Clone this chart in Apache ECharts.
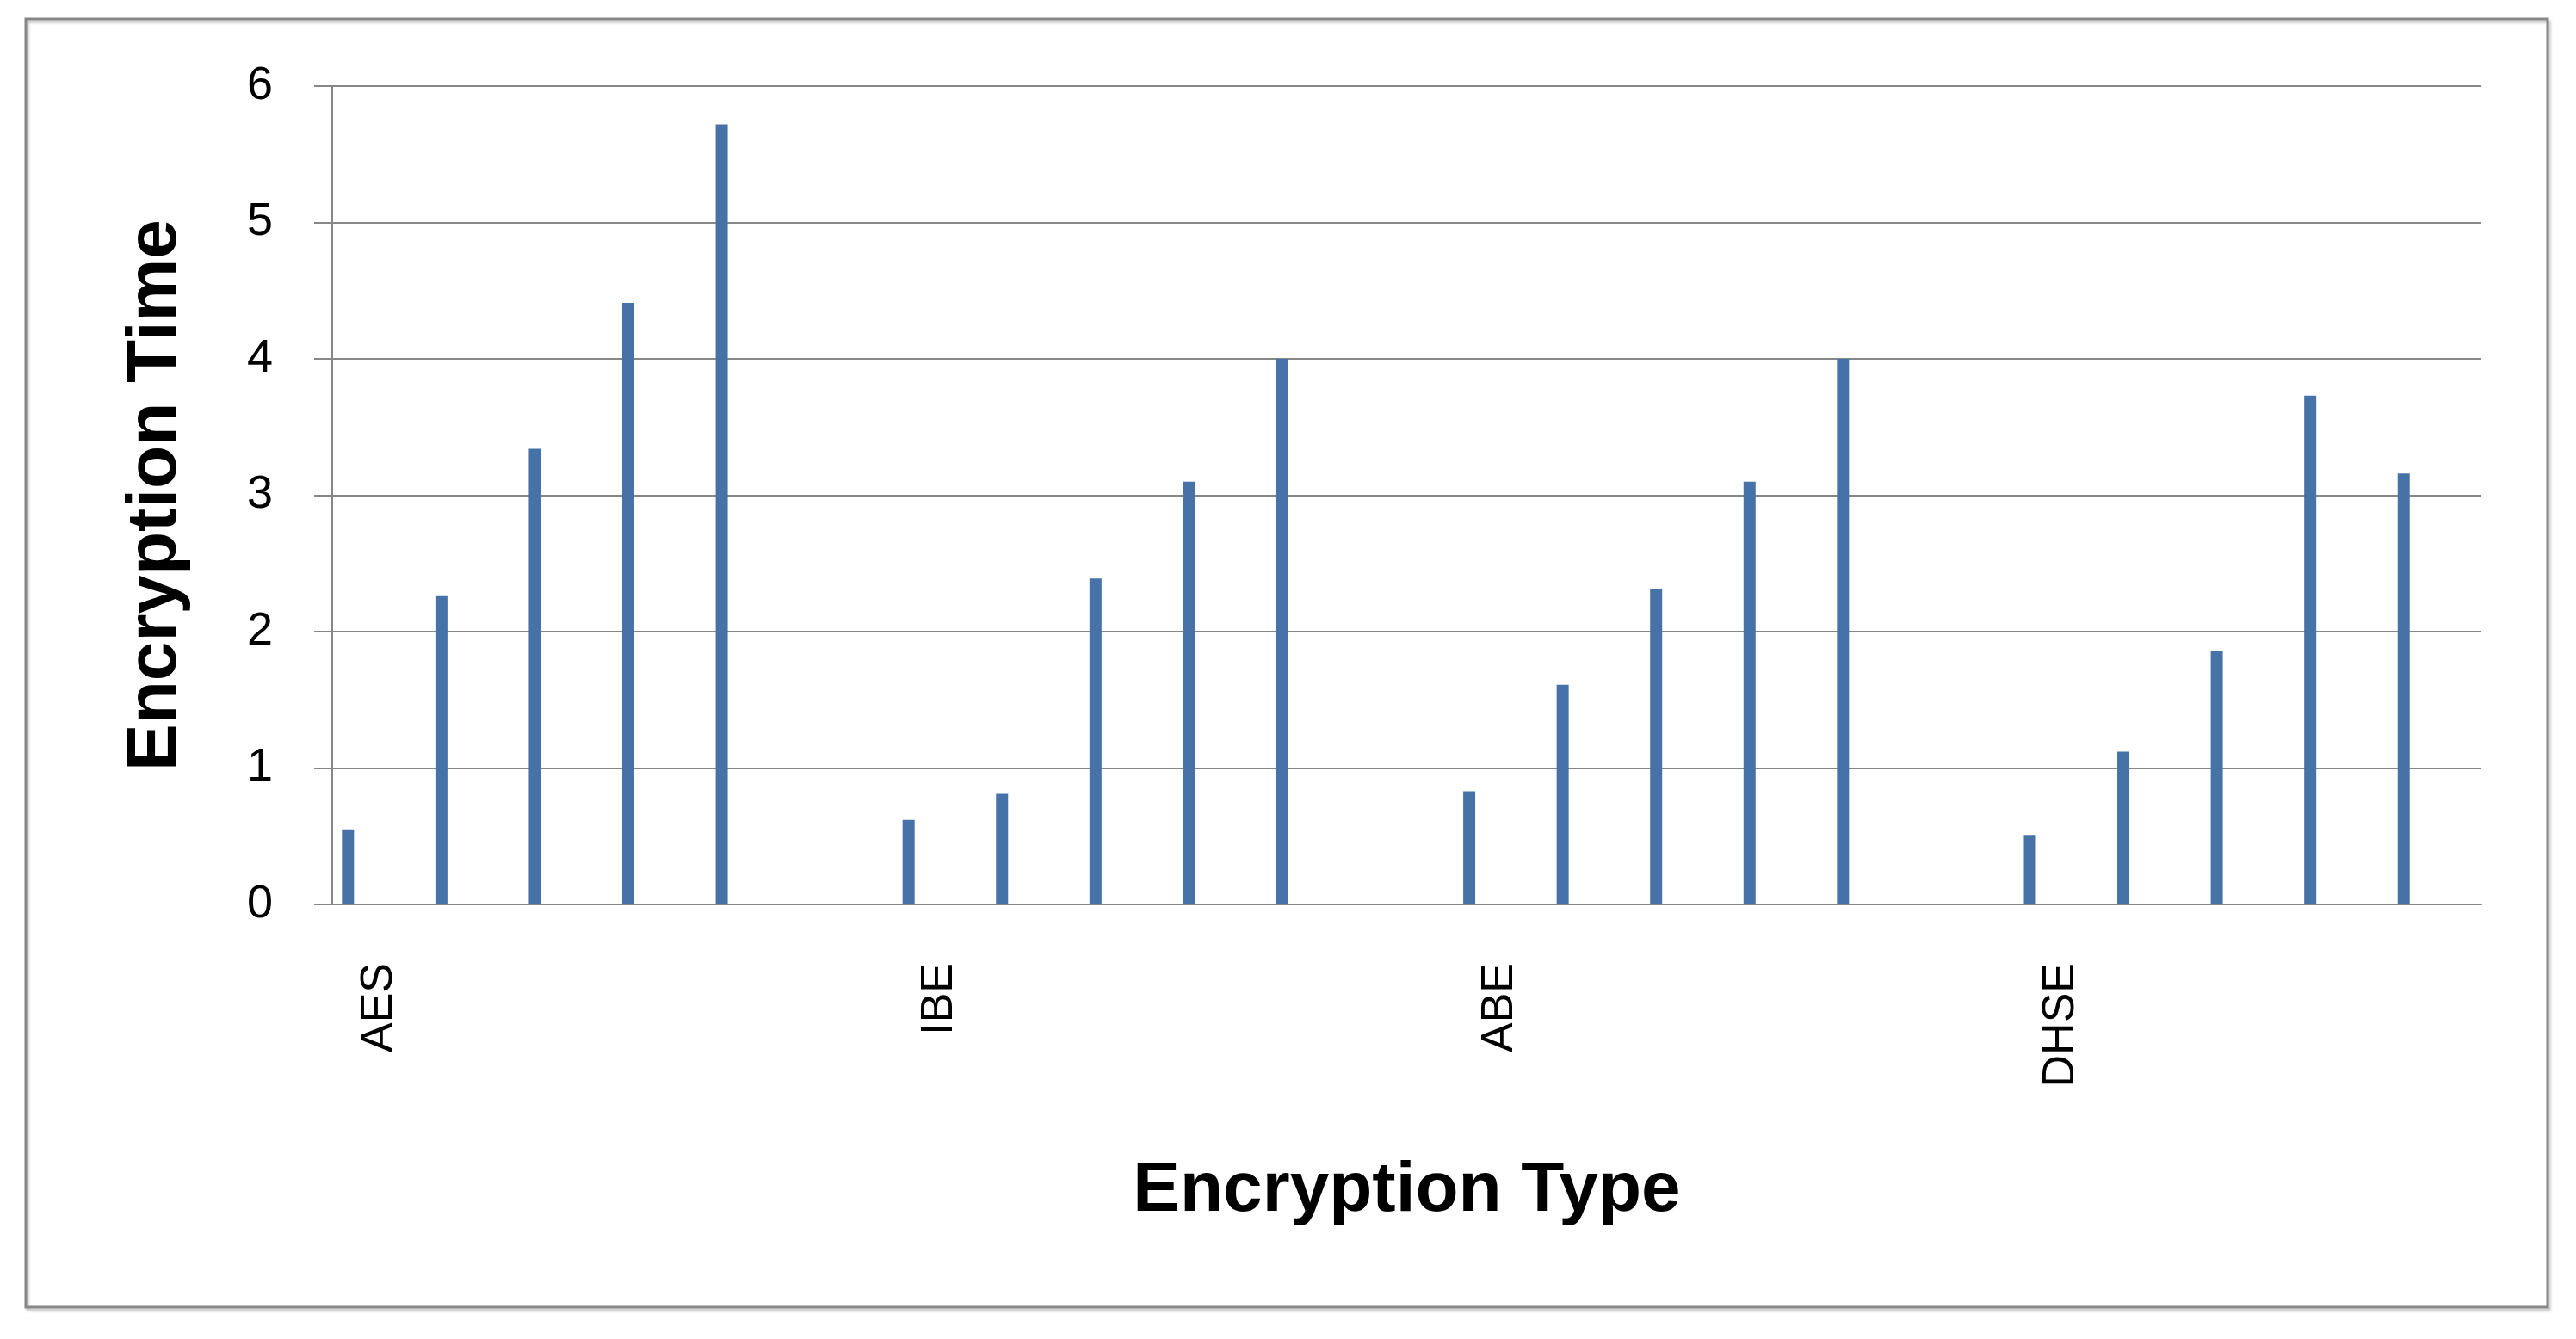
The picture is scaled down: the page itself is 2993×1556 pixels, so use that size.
<!DOCTYPE html>
<html>
<head>
<meta charset="utf-8">
<script src="https://cdn.jsdelivr.net/npm/echarts@6/dist/echarts.min.js"></script>
<style>
html,body{margin:0;padding:0;background:#fff;}
#chart{width:2993px;height:1556px;}
</style>
</head>
<body>
<div id="chart"></div>
<script>
// ---- data ----
var groups = ['AES', 'IBE', 'ABE', 'DHSE'];
var aesTimes  = [0.55, 2.26, 3.34, 4.41, 5.72];
var ibeTimes  = [0.62, 0.81, 2.39, 3.10, 4.00];
var abeTimes  = [0.83, 1.61, 2.31, 3.10, 4.00];
var dhseTimes = [0.51, 1.12, 1.86, 3.73, 3.16];
var yTicks = [0, 1, 2, 3, 4, 5, 6];

// ---- build category slots: 5 bars per group, one empty slot between groups ----
var groupValues = [aesTimes, ibeTimes, abeTimes, dhseTimes];
var categories = [];
var values = [];
var blanks = [];
groups.forEach(function (g, gi) {
  groupValues[gi].forEach(function (v, i) {
    categories.push(i === 0 ? g : '');
    values.push(v);
    blanks.push(null);
  });
  if (gi < groups.length - 1) {
    categories.push('');
    values.push(null);
    blanks.push(null);
  }
});

var chart = echarts.init(document.getElementById('chart'));
var gray = '#878787';
var font = '"Liberation Sans", Arial, sans-serif';

chart.setOption({
  animation: false,
  backgroundColor: '#ffffff',
  grid: { left: 386, right: 110, top: 100, bottom: 505, containLabel: false },
  xAxis: {
    type: 'category',
    data: categories,
    boundaryGap: true,
    name: 'Encryption Type',
    nameLocation: 'middle',
    nameGap: 292,
    nameTextStyle: { fontFamily: font, fontWeight: 'bold', fontSize: 82, color: '#000' },
    axisLine: { show: true, lineStyle: { color: gray, width: 2 } },
    axisTick: { show: false },
    axisLabel: {
      interval: 0, rotate: 90, margin: 68,
      fontFamily: font, fontSize: 52, color: '#000'
    },
    splitLine: { show: false }
  },
  yAxis: {
    type: 'value',
    min: yTicks[0],
    max: yTicks[yTicks.length - 1],
    interval: 1,
    name: 'Encryption Time',
    nameLocation: 'middle',
    nameGap: 164,
    nameTextStyle: { fontFamily: font, fontWeight: 'bold', fontSize: 82, color: '#000' },
    axisLine: { show: true, lineStyle: { color: gray, width: 2 } },
    axisTick: { show: true, length: 21, lineStyle: { color: gray, width: 2 } },
    axisLabel: { margin: 69, fontFamily: font, fontSize: 54, color: '#000' },
    splitLine: { show: true, lineStyle: { color: gray, width: 2 } }
  },
  series: [
    {
      type: 'bar',
      data: values,
      barWidth: 14,
      barGap: '414%',
      itemStyle: { color: '#4672A8' }
    },
    {
      type: 'bar',
      data: blanks,
      barWidth: 14,
      itemStyle: { color: '#4672A8' }
    }
  ],
  graphic: [
    {
      type: 'rect',
      shape: { x: 30, y: 22, width: 2930, height: 1497 },
      style: {
        fill: 'none', stroke: gray, lineWidth: 3,
        shadowColor: 'rgba(0,0,0,0.25)', shadowBlur: 3, shadowOffsetX: 2, shadowOffsetY: 3
      },
      silent: true,
      z: -1
    }
  ]
});
</script>
</body>
</html>
